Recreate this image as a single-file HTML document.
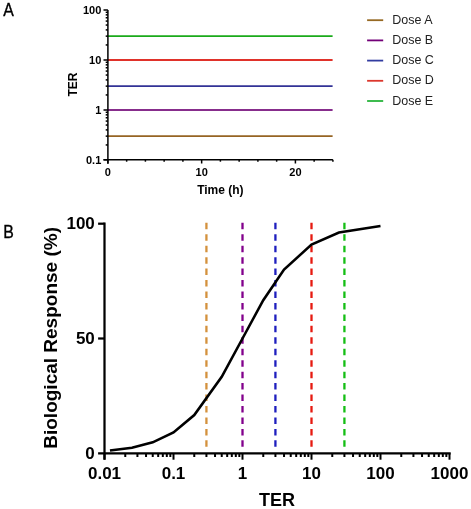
<!DOCTYPE html>
<html><head><meta charset="utf-8"><title>Figure</title>
<style>html,body{margin:0;padding:0;background:#fff;width:471px;height:509px;overflow:hidden}svg{display:block}</style>
</head><body>
<svg width="471" height="509" viewBox="0 0 471 509">
<rect width="471" height="509" fill="#fff"/>
<text transform="translate(3.2 15.8) scale(0.88 1)" font-size="18" font-family="Liberation Sans, Arial, sans-serif" fill="#000" stroke="#000" stroke-width="0.35">A</text>
<text transform="translate(3.3 238) scale(0.88 1)" font-size="18" font-family="Liberation Sans, Arial, sans-serif" fill="#000" stroke="#000" stroke-width="0.35">B</text>
<line x1="107.9" y1="136.14" x2="332.59999999999997" y2="136.14" stroke="#966423" stroke-width="1.8"/>
<line x1="107.9" y1="110.00" x2="332.59999999999997" y2="110.00" stroke="#872d8c" stroke-width="1.8"/>
<line x1="107.9" y1="86.14" x2="332.59999999999997" y2="86.14" stroke="#323296" stroke-width="1.8"/>
<line x1="107.9" y1="60.00" x2="332.59999999999997" y2="60.00" stroke="#e0322a" stroke-width="1.8"/>
<line x1="107.9" y1="36.14" x2="332.59999999999997" y2="36.14" stroke="#1aaa1a" stroke-width="1.8"/>
<g stroke="#000" stroke-width="1.5" fill="none">
<line x1="107.9" y1="10.0" x2="107.9" y2="163.7"/>
<line x1="103.5" y1="159.8" x2="332.9" y2="159.8"/>
<line x1="103.5" y1="159.80" x2="107.9" y2="159.80"/>
<line x1="105.7" y1="144.95" x2="107.9" y2="144.95"/>
<line x1="105.7" y1="136.14" x2="107.9" y2="136.14"/>
<line x1="105.7" y1="129.90" x2="107.9" y2="129.90"/>
<line x1="105.7" y1="125.05" x2="107.9" y2="125.05"/>
<line x1="105.7" y1="121.09" x2="107.9" y2="121.09"/>
<line x1="105.7" y1="117.75" x2="107.9" y2="117.75"/>
<line x1="105.7" y1="114.85" x2="107.9" y2="114.85"/>
<line x1="105.7" y1="112.29" x2="107.9" y2="112.29"/>
<line x1="103.5" y1="110.00" x2="107.9" y2="110.00"/>
<line x1="105.7" y1="94.95" x2="107.9" y2="94.95"/>
<line x1="105.7" y1="86.14" x2="107.9" y2="86.14"/>
<line x1="105.7" y1="79.90" x2="107.9" y2="79.90"/>
<line x1="105.7" y1="75.05" x2="107.9" y2="75.05"/>
<line x1="105.7" y1="71.09" x2="107.9" y2="71.09"/>
<line x1="105.7" y1="67.75" x2="107.9" y2="67.75"/>
<line x1="105.7" y1="64.85" x2="107.9" y2="64.85"/>
<line x1="105.7" y1="62.29" x2="107.9" y2="62.29"/>
<line x1="103.5" y1="60.00" x2="107.9" y2="60.00"/>
<line x1="105.7" y1="44.95" x2="107.9" y2="44.95"/>
<line x1="105.7" y1="36.14" x2="107.9" y2="36.14"/>
<line x1="105.7" y1="29.90" x2="107.9" y2="29.90"/>
<line x1="105.7" y1="25.05" x2="107.9" y2="25.05"/>
<line x1="105.7" y1="21.09" x2="107.9" y2="21.09"/>
<line x1="105.7" y1="17.75" x2="107.9" y2="17.75"/>
<line x1="105.7" y1="14.85" x2="107.9" y2="14.85"/>
<line x1="105.7" y1="12.29" x2="107.9" y2="12.29"/>
<line x1="103.5" y1="10.00" x2="107.9" y2="10.00"/>
<line x1="107.90" y1="159.8" x2="107.90" y2="163.5"/>
<line x1="126.65" y1="159.8" x2="126.65" y2="161.70000000000002"/>
<line x1="145.40" y1="159.8" x2="145.40" y2="161.70000000000002"/>
<line x1="164.15" y1="159.8" x2="164.15" y2="161.70000000000002"/>
<line x1="182.90" y1="159.8" x2="182.90" y2="161.70000000000002"/>
<line x1="201.65" y1="159.8" x2="201.65" y2="163.5"/>
<line x1="220.40" y1="159.8" x2="220.40" y2="161.70000000000002"/>
<line x1="239.15" y1="159.8" x2="239.15" y2="161.70000000000002"/>
<line x1="257.90" y1="159.8" x2="257.90" y2="161.70000000000002"/>
<line x1="276.65" y1="159.8" x2="276.65" y2="161.70000000000002"/>
<line x1="295.40" y1="159.8" x2="295.40" y2="163.5"/>
<line x1="314.15" y1="159.8" x2="314.15" y2="161.70000000000002"/>
<line x1="332.90" y1="159.8" x2="332.90" y2="161.70000000000002"/>
</g>
<g font-family="Liberation Sans, Arial, sans-serif" font-weight="bold" font-size="11" fill="#000" text-anchor="end">
<text x="101.3" y="13.60">100</text>
<text x="101.3" y="63.60">10</text>
<text x="101.3" y="113.60">1</text>
<text x="101.3" y="163.60">0.1</text>
</g>
<g font-family="Liberation Sans, Arial, sans-serif" font-weight="bold" font-size="11" fill="#000" text-anchor="middle">
<text x="107.90" y="176.3">0</text>
<text x="201.65" y="176.3">10</text>
<text x="295.40" y="176.3">20</text>
</g>
<text font-family="Liberation Sans, Arial, sans-serif" font-weight="bold" font-size="12" x="220.40" y="193.8" text-anchor="middle">Time (h)</text>
<text font-family="Liberation Sans, Arial, sans-serif" font-weight="bold" font-size="12" transform="translate(76.9 84.6) rotate(-90)" text-anchor="middle">TER</text>
<line x1="367.1" y1="20.20" x2="383.2" y2="20.20" stroke="#966923" stroke-width="1.8"/>
<text x="392.2" y="23.70" font-size="12.5" font-family="Liberation Sans, Arial, sans-serif" fill="#222">Dose A</text>
<line x1="367.1" y1="40.40" x2="383.2" y2="40.40" stroke="#730078" stroke-width="1.8"/>
<text x="392.2" y="43.90" font-size="12.5" font-family="Liberation Sans, Arial, sans-serif" fill="#222">Dose B</text>
<line x1="367.1" y1="60.60" x2="383.2" y2="60.60" stroke="#323ca0" stroke-width="1.8"/>
<text x="392.2" y="64.10" font-size="12.5" font-family="Liberation Sans, Arial, sans-serif" fill="#222">Dose C</text>
<line x1="367.1" y1="80.80" x2="383.2" y2="80.80" stroke="#dc372d" stroke-width="1.8"/>
<text x="392.2" y="84.30" font-size="12.5" font-family="Liberation Sans, Arial, sans-serif" fill="#222">Dose D</text>
<line x1="367.1" y1="101.00" x2="383.2" y2="101.00" stroke="#28b43c" stroke-width="1.8"/>
<text x="392.2" y="104.50" font-size="12.5" font-family="Liberation Sans, Arial, sans-serif" fill="#222">Dose E</text>
<line x1="206.42" y1="222.8" x2="206.42" y2="451.3" stroke="#d4913c" stroke-width="2.3" stroke-dasharray="6.5 4.95"/>
<line x1="242.50" y1="222.8" x2="242.50" y2="451.3" stroke="#82008c" stroke-width="2.3" stroke-dasharray="6.5 4.95"/>
<line x1="275.42" y1="222.8" x2="275.42" y2="451.3" stroke="#1e1ebe" stroke-width="2.3" stroke-dasharray="6.5 4.95"/>
<line x1="311.50" y1="222.8" x2="311.50" y2="451.3" stroke="#e61a10" stroke-width="2.3" stroke-dasharray="6.5 4.95"/>
<line x1="344.42" y1="222.8" x2="344.42" y2="451.3" stroke="#14be14" stroke-width="2.3" stroke-dasharray="6.5 4.95"/>
<polyline points="109.96,450.58 131.96,447.70 152.73,442.37 173.50,432.43 194.27,415.03 221.73,376.77 242.50,338.50 263.27,300.23 284.04,269.62 311.50,244.57 338.96,232.53 380.50,225.97" fill="none" stroke="#000" stroke-width="2.6" stroke-linejoin="miter"/>
<g stroke="#000" stroke-width="2.25" fill="none">
<line x1="104.5" y1="222.5" x2="104.5" y2="459.7"/>
<line x1="98.1" y1="453.3" x2="450.7" y2="453.3"/>
<line x1="98.1" y1="338.50" x2="104.5" y2="338.50"/>
<line x1="98.1" y1="223.70" x2="104.5" y2="223.70"/>
<line x1="104.50" y1="453.3" x2="104.50" y2="459.7" stroke-width="2"/>
<line x1="125.27" y1="453.3" x2="125.27" y2="457.0" stroke-width="2"/>
<line x1="137.42" y1="453.3" x2="137.42" y2="457.0" stroke-width="2"/>
<line x1="146.04" y1="453.3" x2="146.04" y2="457.0" stroke-width="2"/>
<line x1="152.73" y1="453.3" x2="152.73" y2="457.0" stroke-width="2"/>
<line x1="158.19" y1="453.3" x2="158.19" y2="457.0" stroke-width="2"/>
<line x1="162.81" y1="453.3" x2="162.81" y2="457.0" stroke-width="2"/>
<line x1="166.81" y1="453.3" x2="166.81" y2="457.0" stroke-width="2"/>
<line x1="170.34" y1="453.3" x2="170.34" y2="457.0" stroke-width="2"/>
<line x1="173.50" y1="453.3" x2="173.50" y2="459.7" stroke-width="2"/>
<line x1="194.27" y1="453.3" x2="194.27" y2="457.0" stroke-width="2"/>
<line x1="206.42" y1="453.3" x2="206.42" y2="457.0" stroke-width="2"/>
<line x1="215.04" y1="453.3" x2="215.04" y2="457.0" stroke-width="2"/>
<line x1="221.73" y1="453.3" x2="221.73" y2="457.0" stroke-width="2"/>
<line x1="227.19" y1="453.3" x2="227.19" y2="457.0" stroke-width="2"/>
<line x1="231.81" y1="453.3" x2="231.81" y2="457.0" stroke-width="2"/>
<line x1="235.81" y1="453.3" x2="235.81" y2="457.0" stroke-width="2"/>
<line x1="239.34" y1="453.3" x2="239.34" y2="457.0" stroke-width="2"/>
<line x1="242.50" y1="453.3" x2="242.50" y2="459.7" stroke-width="2"/>
<line x1="263.27" y1="453.3" x2="263.27" y2="457.0" stroke-width="2"/>
<line x1="275.42" y1="453.3" x2="275.42" y2="457.0" stroke-width="2"/>
<line x1="284.04" y1="453.3" x2="284.04" y2="457.0" stroke-width="2"/>
<line x1="290.73" y1="453.3" x2="290.73" y2="457.0" stroke-width="2"/>
<line x1="296.19" y1="453.3" x2="296.19" y2="457.0" stroke-width="2"/>
<line x1="300.81" y1="453.3" x2="300.81" y2="457.0" stroke-width="2"/>
<line x1="304.81" y1="453.3" x2="304.81" y2="457.0" stroke-width="2"/>
<line x1="308.34" y1="453.3" x2="308.34" y2="457.0" stroke-width="2"/>
<line x1="311.50" y1="453.3" x2="311.50" y2="459.7" stroke-width="2"/>
<line x1="332.27" y1="453.3" x2="332.27" y2="457.0" stroke-width="2"/>
<line x1="344.42" y1="453.3" x2="344.42" y2="457.0" stroke-width="2"/>
<line x1="353.04" y1="453.3" x2="353.04" y2="457.0" stroke-width="2"/>
<line x1="359.73" y1="453.3" x2="359.73" y2="457.0" stroke-width="2"/>
<line x1="365.19" y1="453.3" x2="365.19" y2="457.0" stroke-width="2"/>
<line x1="369.81" y1="453.3" x2="369.81" y2="457.0" stroke-width="2"/>
<line x1="373.81" y1="453.3" x2="373.81" y2="457.0" stroke-width="2"/>
<line x1="377.34" y1="453.3" x2="377.34" y2="457.0" stroke-width="2"/>
<line x1="380.50" y1="453.3" x2="380.50" y2="459.7" stroke-width="2"/>
<line x1="401.27" y1="453.3" x2="401.27" y2="457.0" stroke-width="2"/>
<line x1="413.42" y1="453.3" x2="413.42" y2="457.0" stroke-width="2"/>
<line x1="422.04" y1="453.3" x2="422.04" y2="457.0" stroke-width="2"/>
<line x1="428.73" y1="453.3" x2="428.73" y2="457.0" stroke-width="2"/>
<line x1="434.19" y1="453.3" x2="434.19" y2="457.0" stroke-width="2"/>
<line x1="438.81" y1="453.3" x2="438.81" y2="457.0" stroke-width="2"/>
<line x1="442.81" y1="453.3" x2="442.81" y2="457.0" stroke-width="2"/>
<line x1="446.34" y1="453.3" x2="446.34" y2="457.0" stroke-width="2"/>
<line x1="449.50" y1="453.3" x2="449.50" y2="459.7" stroke-width="2"/>
</g>
<g font-family="Liberation Sans, Arial, sans-serif" font-weight="bold" font-size="17" fill="#000" text-anchor="end">
<text x="94.8" y="458.60">0</text>
<text x="94.8" y="343.80">50</text>
<text x="94.8" y="229.00">100</text>
</g>
<g font-family="Liberation Sans, Arial, sans-serif" font-weight="bold" font-size="17" fill="#000" text-anchor="middle">
<text x="104.50" y="478.9">0.01</text>
<text x="173.50" y="478.9">0.1</text>
<text x="242.50" y="478.9">1</text>
<text x="311.50" y="478.9">10</text>
<text x="380.50" y="478.9">100</text>
<text x="449.50" y="478.9">1000</text>
</g>
<text font-family="Liberation Sans, Arial, sans-serif" font-weight="bold" font-size="18" x="277.00" y="505.9" text-anchor="middle">TER</text>
<text font-family="Liberation Sans, Arial, sans-serif" font-weight="bold" transform="translate(57 337.9) rotate(-90)" text-anchor="middle" font-size="19">Biological Response (%)</text>
</svg>
</body></html>
